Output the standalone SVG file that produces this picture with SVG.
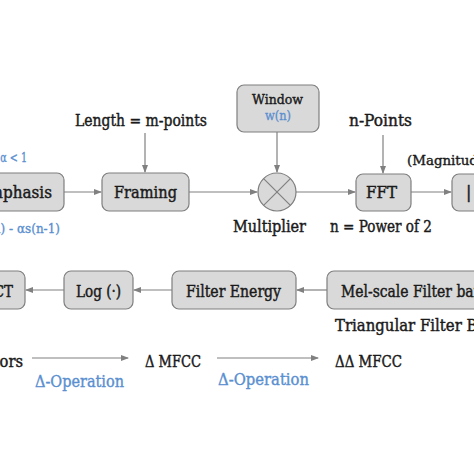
<svg xmlns="http://www.w3.org/2000/svg" width="474" height="474" viewBox="0 0 474 474">
<style>
.box{fill:#d9d9d9;stroke:#7f7f7f;stroke-width:1.2}
.t{font-family:"DejaVu Serif",serif;font-size:16px;fill:#1a1a1a;stroke:#1a1a1a;stroke-width:0.45}
.s{font-family:"DejaVu Serif",serif;font-size:13px;fill:#1a1a1a;stroke:#1a1a1a;stroke-width:0.4}
.b{font-family:"DejaVu Serif",serif;font-size:13px;fill:#5a8fd0;stroke:#5a8fd0;stroke-width:0.35}
.bl{font-family:"DejaVu Serif",serif;font-size:16px;fill:#5a8fd0;stroke:#5a8fd0;stroke-width:0.4}
.c{fill:none;stroke:#808080;stroke-width:1.2}
</style>
<defs>
<marker id="ah" markerWidth="8" markerHeight="6" refX="7" refY="3" orient="auto" markerUnits="userSpaceOnUse">
<path d="M0,0 L8,3 L0,6 Z" fill="#808080"/>
</marker>
</defs>
<rect width="474" height="474" fill="#ffffff"/>
<g id="connectors">
<line class="c" x1="64" y1="192" x2="101" y2="192" marker-end="url(#ah)"/>
<line class="c" x1="145" y1="133" x2="145" y2="172" marker-end="url(#ah)"/>
<line class="c" x1="189" y1="192" x2="257" y2="192" marker-end="url(#ah)"/>
<line class="c" x1="277" y1="132" x2="277" y2="172" marker-end="url(#ah)"/>
<line class="c" x1="296" y1="192" x2="355" y2="192" marker-end="url(#ah)"/>
<line class="c" x1="383" y1="135" x2="383" y2="173" marker-end="url(#ah)"/>
<line class="c" x1="411" y1="192" x2="451" y2="192" marker-end="url(#ah)"/>
<line class="c" x1="327" y1="290" x2="297" y2="290" marker-end="url(#ah)"/>
<line class="c" x1="172" y1="290" x2="134" y2="290" marker-end="url(#ah)"/>
<line class="c" x1="64" y1="290" x2="26" y2="290" marker-end="url(#ah)"/>
<line class="c" x1="32" y1="358" x2="128" y2="358" marker-end="url(#ah)"/>
<line class="c" x1="217" y1="358" x2="318" y2="358" marker-end="url(#ah)"/>
</g>
<g id="preemphasis">
<rect class="box" x="-60" y="173" width="124" height="38" rx="7"/>
<text class="t" x="-52" y="198" textLength="104" lengthAdjust="spacingAndGlyphs">Pre-emphasis</text>
<text class="b" x="-20" y="162" textLength="47" lengthAdjust="spacingAndGlyphs">0 &lt; α &lt; 1</text>
<text class="b" x="-18" y="233" textLength="78" lengthAdjust="spacingAndGlyphs">s(n) - αs(n-1)</text>
</g>
<g id="framing">
<rect class="box" x="102" y="173" width="87" height="38" rx="7"/>
<text class="t" x="114" y="198" textLength="63" lengthAdjust="spacingAndGlyphs">Framing</text>
<text class="t" x="75" y="126" textLength="132" lengthAdjust="spacingAndGlyphs">Length = m-points</text>
</g>
<g id="window">
<rect class="box" x="237" y="85" width="82" height="47" rx="7"/>
<text class="s" x="252" y="104" textLength="51" lengthAdjust="spacingAndGlyphs" stroke-width="0.6">Window</text>
<text class="b" x="265" y="120" textLength="26" lengthAdjust="spacingAndGlyphs">w(n)</text>
</g>
<g id="multiplier">
<circle cx="277" cy="192" r="19" fill="#d9d9d9" stroke="#7f7f7f" stroke-width="1.2"/>
<line class="c" x1="263.6" y1="178.6" x2="290.4" y2="205.4"/>
<line class="c" x1="290.4" y1="178.6" x2="263.6" y2="205.4"/>
<text class="t" x="233" y="232" textLength="73" lengthAdjust="spacingAndGlyphs">Multiplier</text>
</g>
<g id="fft">
<rect class="box" x="356" y="174" width="55" height="37" rx="7"/>
<text class="t" x="366" y="198" textLength="31" lengthAdjust="spacingAndGlyphs">FFT</text>
<text class="t" x="349" y="126" textLength="63" lengthAdjust="spacingAndGlyphs">n-Points</text>
<text class="t" x="330" y="232" textLength="102" lengthAdjust="spacingAndGlyphs">n = Power of 2</text>
</g>
<g id="magnitude">
<rect class="box" x="452" y="174" width="60" height="37" rx="7"/>
<text class="t" x="466" y="198">| FFT |</text>
<text class="s" x="407" y="165" textLength="84" lengthAdjust="spacingAndGlyphs">(Magnitude)</text>
</g>
<g id="melscale">
<rect class="box" x="327" y="271" width="190" height="38" rx="7"/>
<text class="t" x="341" y="297" textLength="150" lengthAdjust="spacingAndGlyphs">Mel-scale Filter bank</text>
<text class="t" x="335" y="331" textLength="170" lengthAdjust="spacingAndGlyphs">Triangular Filter Bank</text>
</g>
<g id="filterenergy">
<rect class="box" x="172" y="271" width="124" height="38" rx="7"/>
<text class="t" x="186" y="297" textLength="95" lengthAdjust="spacingAndGlyphs">Filter Energy</text>
</g>
<g id="log">
<rect class="box" x="64" y="271" width="69" height="38" rx="7"/>
<text class="t" x="76" y="297" textLength="45" lengthAdjust="spacingAndGlyphs">Log (·)</text>
</g>
<g id="dct">
<rect class="box" x="-40" y="271" width="65" height="38" rx="7"/>
<text class="t" x="-17" y="297" textLength="30" lengthAdjust="spacingAndGlyphs">DCT</text>
</g>
<g id="vectors">
<text class="t" x="-95" y="367" textLength="118" lengthAdjust="spacingAndGlyphs">Feature Vectors</text>
</g>
<g id="dmfcc">
<text class="t" x="145" y="367" textLength="56" lengthAdjust="spacingAndGlyphs">Δ MFCC</text>
<text class="bl" x="35" y="387" textLength="89" lengthAdjust="spacingAndGlyphs">Δ-Operation</text>
</g>
<g id="ddmfcc">
<text class="t" x="335" y="367" textLength="67" lengthAdjust="spacingAndGlyphs">ΔΔ MFCC</text>
<text class="bl" x="218" y="385" textLength="91" lengthAdjust="spacingAndGlyphs">Δ-Operation</text>
</g>
</svg>
